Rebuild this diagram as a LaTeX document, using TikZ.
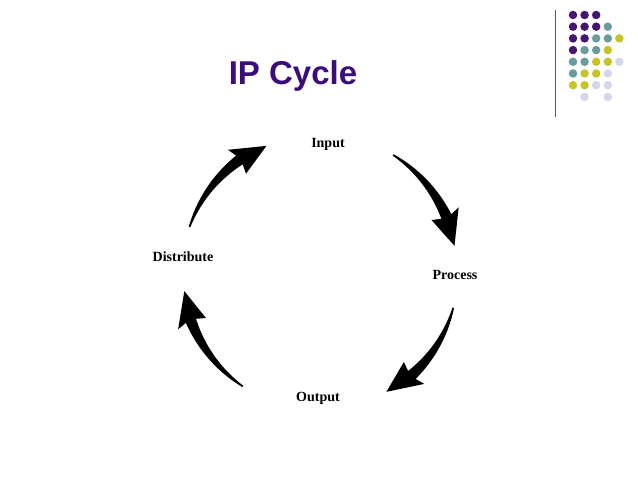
\documentclass[tikz,border=0pt]{standalone}
\usepackage{fontspec}
\setmainfont{Liberation Serif}
\newfontfamily\titlefont{Liberation Sans}
\definecolor{dP}{HTML}{44166E}
\definecolor{dT}{HTML}{6A9C9E}
\definecolor{dY}{HTML}{C6C426}
\definecolor{dL}{HTML}{D6D6EA}
\definecolor{titlec}{HTML}{3A0C7C}
\tikzset{lbl/.style={font=\bfseries\fontsize{14}{16}\selectfont},
  dot/.style={circle,inner sep=0pt,minimum size=8.5pt}}
\newcommand{\cyclearrow}[2]{% start angle, end angle (tip)
  \pgfmathsetmacro{\mm}{#2+14}
  \fill[black,shift={(320,206)}] plot[domain=#1:\mm-3,samples=25] (\x:{138+0.8+4.5*(#1-\x)/(#1-\mm)})
    -- plot[domain=\mm-3:#1,samples=25] (\x:{138-0.8-4.5*(#1-\x)/(#1-\mm)}) -- cycle;
  \fill[black,shift={(320,206)}] (\mm:153) -- (#2:137) -- (\mm:123) -- (\mm-2:138) -- cycle;
}
\begin{document}
\begin{tikzpicture}[x=1pt,y=1pt]
\useasboundingbox[fill=white] (0,0) rectangle (638,478);
\node[font=\titlefont\bfseries\fontsize{33}{36}\selectfont,text=titlec] (title) at (293,402) {IP Cycle};
\node[lbl] (input) at (328,334) {Input};
\node[lbl] (process) at (455,203) {Process};
\node[lbl] (output) at (318,80) {Output};
\node[lbl] (distribute) at (183,221) {Distribute};
\cyclearrow{58}{11}
\cyclearrow{-15}{-61}
\cyclearrow{236}{188}
\cyclearrow{161}{113}
\draw[gray!70!black,line width=0.8pt] (555,468) -- (555,361);
\foreach \r/\cols in {0/{0/dP,1/dP,2/dP},1/{0/dP,1/dP,2/dP,3/dT},2/{0/dP,1/dP,2/dT,3/dT,4/dY},
  3/{0/dP,1/dT,2/dT,3/dY},4/{0/dT,1/dT,2/dY,3/dY,4/dL},5/{0/dT,1/dY,2/dY,3/dL},
  6/{0/dY,1/dY,2/dL,3/dL},7/{1/dL,3/dL}}{
  \foreach \c/\col in \cols {\node[dot,fill=\col] (d\r\c) at ({573+11.6*\c},{463-11.7*\r}) {};}
}
\end{tikzpicture}
\end{document}
